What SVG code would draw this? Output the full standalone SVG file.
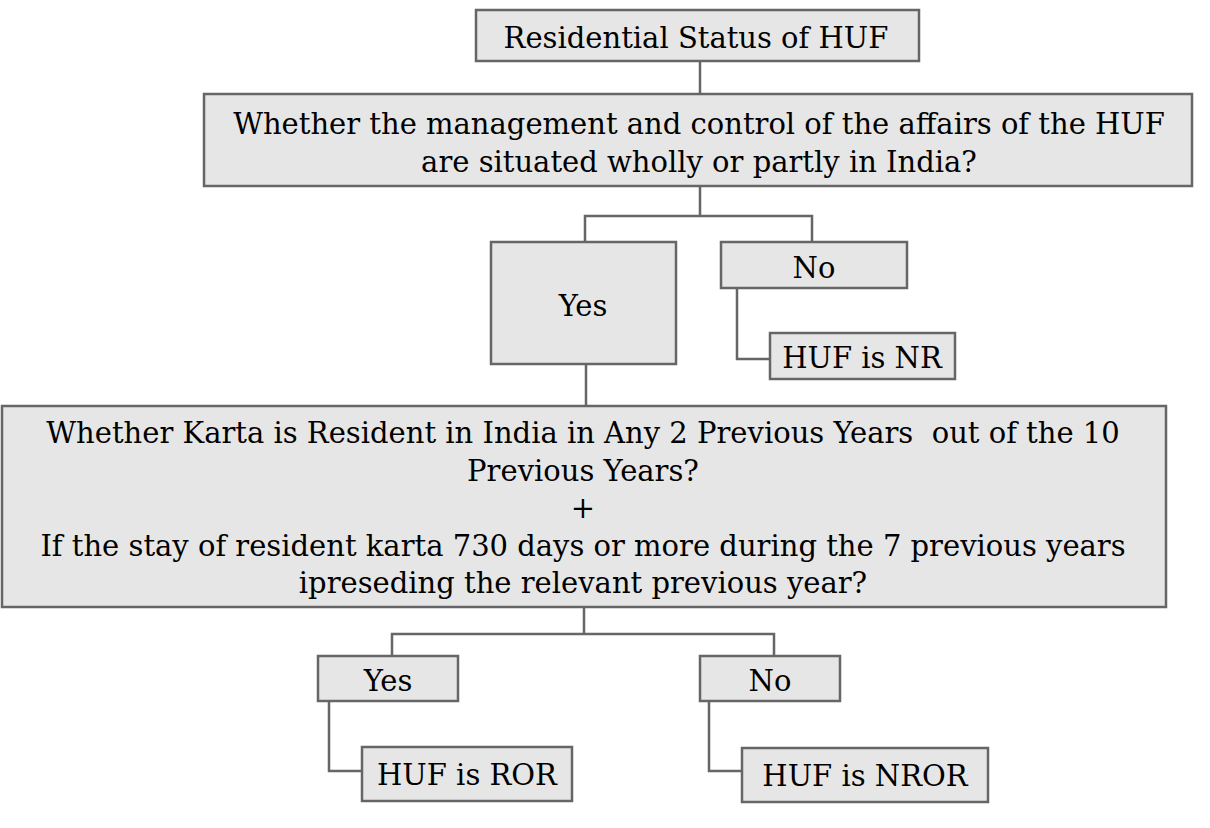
<svg xmlns="http://www.w3.org/2000/svg" width="1210" height="828" viewBox="0 0 1210 828">
<style>
.box{fill:#e6e6e6;stroke:#666;stroke-width:2.5}
.t{font-family:"DejaVu Serif","Liberation Serif",serif;font-size:29px;fill:#000;text-anchor:middle}
.c{fill:none;stroke:#666;stroke-width:2.5}
</style>
<rect width="1210" height="828" fill="#fff"/>
<g id="connectors">
<path class="c" d="M700,61 V94"/>
<path class="c" d="M700,186 V216 M585,242 V216 H812 V242"/>
<path class="c" d="M737,288 V359 H770"/>
<path class="c" d="M586,364 V406"/>
<path class="c" d="M584,607 V634 M392,656 V634 H774 V656"/>
<path class="c" d="M329,701 V771 H362"/>
<path class="c" d="M709,701 V771 H742"/>
</g>
<g id="n1"><rect class="box" x="476" y="10" width="443" height="51"/><text class="t" x="696" y="48">Residential Status of HUF</text></g>
<g id="n2"><rect class="box" x="204" y="94" width="988" height="92"/><text class="t" x="699" y="134">Whether the management and control of the affairs of the HUF</text><text class="t" x="699" y="172">are situated wholly or partly in India?</text></g>
<g id="n3"><rect class="box" x="491" y="242" width="185" height="122"/><text class="t" x="583" y="316">Yes</text></g>
<g id="n4"><rect class="box" x="721" y="242" width="186" height="46"/><text class="t" x="814" y="278">No</text></g>
<g id="n5"><rect class="box" x="770" y="333" width="185" height="46"/><text class="t" x="862" y="368">HUF is NR</text></g>
<g id="n6"><rect class="box" x="2" y="406" width="1164" height="201"/>
<text class="t" x="583" y="443" style="white-space:pre">Whether Karta is Resident in India in Any 2 Previous Years  out of the 10</text>
<text class="t" x="583" y="481">Previous Years?</text>
<text class="t" x="583" y="518">+</text>
<text class="t" x="583" y="556">If the stay of resident karta 730 days or more during the 7 previous years</text>
<text class="t" x="583" y="593">ipreseding the relevant previous year?</text></g>
<g id="n7"><rect class="box" x="318" y="656" width="140" height="45"/><text class="t" x="388" y="691">Yes</text></g>
<g id="n8"><rect class="box" x="700" y="656" width="140" height="45"/><text class="t" x="770" y="691">No</text></g>
<g id="n9"><rect class="box" x="362" y="747" width="210" height="54"/><text class="t" x="467" y="785">HUF is ROR</text></g>
<g id="n10"><rect class="box" x="742" y="748" width="246" height="54"/><text class="t" x="865" y="786">HUF is NROR</text></g>
</svg>
